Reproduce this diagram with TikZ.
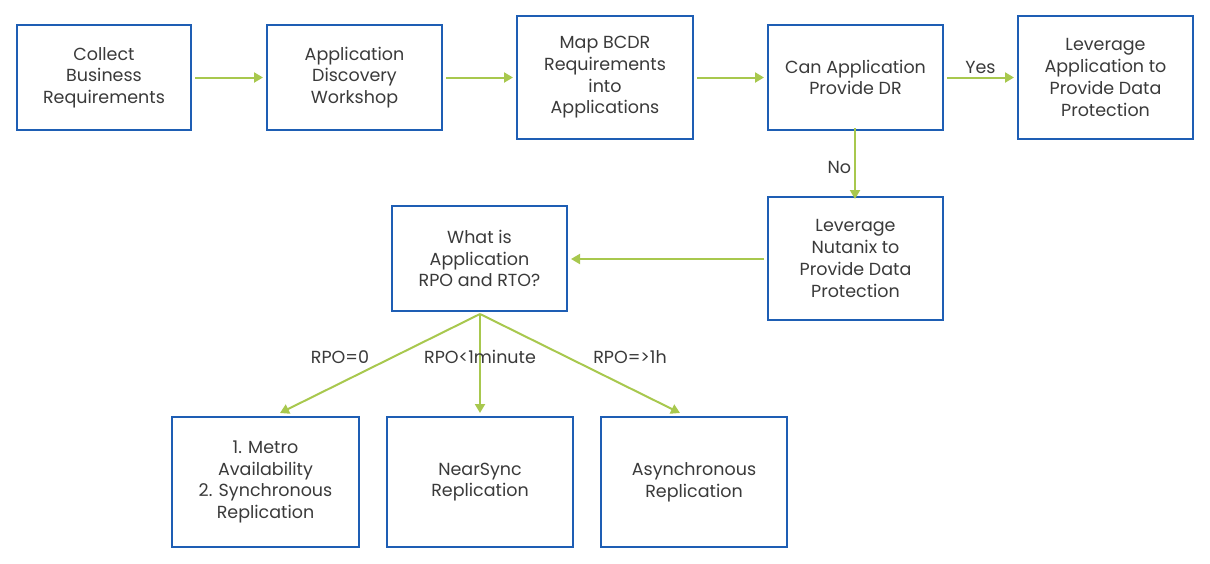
\documentclass[tikz,border=0pt]{standalone}
\usepackage{fontspec}
\setmainfont{Poppins}
\usetikzlibrary{arrows.meta}
\definecolor{boxblue}{HTML}{1E5EB4}
\definecolor{arrgreen}{HTML}{A8C84E}
\definecolor{txt}{HTML}{3A3A3A}
\begin{document}
\begin{tikzpicture}[x=1pt,y=-1pt,
  box/.style={draw=boxblue,line width=2pt,align=center,text=txt,font=\fontsize{17.5}{21.7}\selectfont,inner sep=0pt},
  conn/.style={draw=arrgreen,line width=2pt,-{Triangle[length=9pt,width=10pt]}},
  lbl/.style={text=txt,font=\fontsize{17.5}{20}\selectfont,inner sep=1pt}]
\useasboundingbox (0,0) rectangle (1210,563);
\newcommand\bx[6]{\node[box,minimum width=#3-#2,minimum height=#5-#4] (#1) at ({(#2+#3)/2},{(#4+#5)/2}) {#6};}
\bx{b1}{17}{191}{25}{130}{Collect\\Business\\Requirements}
\bx{b2}{267}{442}{25}{130}{Application\\Discovery\\Workshop}
\bx{b3}{517}{693}{16}{139}{Map BCDR\\Requirements\\into\\Applications}
\bx{b4}{768}{943}{25}{130}{Can Application\\Provide DR}
\bx{b5}{1018}{1193}{16}{139}{Leverage\\Application to\\Provide Data\\Protection}
\bx{b6}{768}{943}{197}{320}{Leverage\\Nutanix to\\Provide Data\\Protection}
\bx{b7}{392}{567}{206}{311}{What is\\Application\\RPO and RTO?}
\bx{b8}{172}{359}{417}{547}{1. Metro\\Availability\\2. Synchronous\\Replication}
\bx{b9}{387}{573}{417}{547}{NearSync\\Replication}
\bx{b10}{601}{787}{417}{547}{Asynchronous\\Replication}
\coordinate (s7) at (480,314);
\coordinate (t8) at (280,413);
\coordinate (t9) at (480,413);
\coordinate (t10) at (680,413);
\draw[conn] ([xshift=3pt]b1.east) -- ([xshift=-3pt]b2.west);
\draw[conn] ([xshift=3pt]b2.east) -- ([xshift=-3pt]b3.west|-b2.east);
\draw[conn] ([xshift=3pt]b3.east|-b4.west) -- ([xshift=-3pt]b4.west);
\draw[conn] ([xshift=3pt]b4.east) -- node[lbl,above=2pt] (ly) {Yes} ([xshift=-3pt]b5.west|-b4.east);
\draw[conn] ([yshift=3pt]b4.south-|855,0) -- node[lbl,left=2pt,pos=0.55] (ln) {No} ([yshift=-3pt]b6.north-|855,0);
\draw[conn] ([xshift=-3pt]b6.west|-0,259) -- ([xshift=3pt]b7.east|-0,259);
\draw[conn] (s7) -- (t8);
\draw[conn] (s7) -- (t9);
\draw[conn] (s7) -- (t10);
\node[lbl] (l1) at (340,357) {RPO=0};
\node[lbl] (l2) at (480,357) {RPO<1minute};
\node[lbl] (l3) at (630,357) {RPO=>1h};
\end{tikzpicture}
\end{document}
